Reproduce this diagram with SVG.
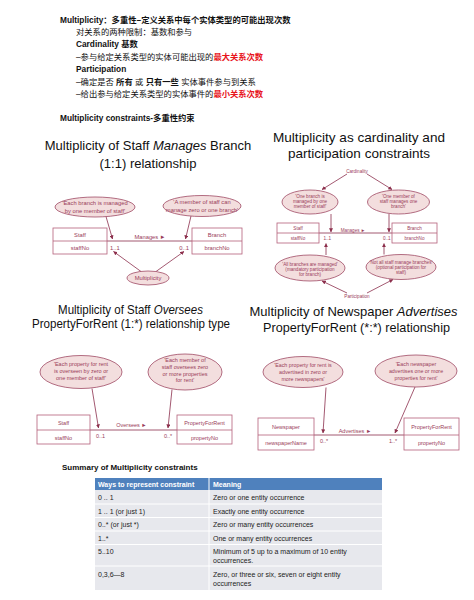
<svg xmlns="http://www.w3.org/2000/svg" width="474" height="600" viewBox="0 0 474 600">
<defs>
<marker id="ah" viewBox="0 0 6 6" refX="5.5" refY="3" markerWidth="4" markerHeight="4" orient="auto" markerUnits="userSpaceOnUse"><path d="M0,0 L6,3 L0,6 z" fill="#8c2f4c"/></marker>
<style>
.t{font-family:"Liberation Sans","Noto Sans CJK SC",sans-serif;fill:#111}
.b{font-weight:bold}
.red{fill:#e8141c;font-weight:bold}
.ti{font-family:"Liberation Sans",sans-serif;font-size:13px;fill:#111;text-anchor:middle}
.el{fill:#f3dede;stroke:#a04a64;stroke-width:0.8}
.bx{fill:#fff;stroke:#b4607a;stroke-width:0.8}
.ln{stroke:#8c2f4c;stroke-width:0.8;fill:none}
.ar{stroke:#8c2f4c;stroke-width:0.8;fill:none;marker-end:url(#ah)}
.d{font-family:"Liberation Sans",sans-serif;fill:#9a3d5a;text-anchor:middle}
.ds{font-family:"Liberation Sans",sans-serif;fill:#9a3d5a}
.tb{font-family:"Liberation Sans",sans-serif;font-size:7px;fill:#222}
.th{font-family:"Liberation Sans",sans-serif;font-size:7px;fill:#fff;font-weight:bold}
</style>
</defs>
<rect width="474" height="600" fill="#fff"/>

<g id="intro" class="t" font-size="8.3">
<text x="60" y="23" class="b">Multiplicity：多重性–定义关系中每个实体类型的可能出现次数</text>
<text x="76" y="35">对关系的两种限制：基数和参与</text>
<text x="76" y="47" class="b">Cardinality 基数</text>
<text x="76" y="60">–参与给定关系类型的实体可能出现的<tspan class="red">最大关系次数</tspan></text>
<text x="76" y="72" class="b">Participation</text>
<text x="76" y="85">–确定是否 <tspan class="b">所有</tspan> 或 <tspan class="b">只有一些</tspan> 实体事件参与到关系</text>
<text x="76" y="97">–给出参与给定关系类型的实体事件的<tspan class="red">最小关系次数</tspan></text>
<text x="60" y="121" class="b">Multiplicity constraints-多重性约束</text>
</g>

<g id="titles">
<text class="ti" x="148" y="150">Multiplicity of Staff <tspan font-style="italic">Manages</tspan> Branch</text>
<text class="ti" x="148" y="168" textLength="97" lengthAdjust="spacingAndGlyphs">(1:1) relationship</text>
<text class="ti" x="359" y="142" textLength="172" lengthAdjust="spacingAndGlyphs">Multiplicity as cardinality and</text>
<text class="ti" x="359" y="158" textLength="142" lengthAdjust="spacingAndGlyphs">participation constraints</text>
<text class="ti" transform="translate(130.5,314) scale(0.885,1)" x="0" y="0">Multiplicity of Staff <tspan font-style="italic">Oversees</tspan></text>
<text class="ti" x="131" y="328" textLength="198" lengthAdjust="spacingAndGlyphs">PropertyForRent (1:*) relationship type</text>
<text class="ti" x="353.5" y="316" font-size="13.3">Multiplicity of Newspaper <tspan font-style="italic">Advertises</tspan></text>
<text class="ti" x="356.5" y="332" textLength="187" lengthAdjust="spacingAndGlyphs">PropertyForRent (*:*) relationship</text>
</g>

<g id="connectors">
<line class="ln" x1="107" y1="241" x2="192" y2="241"/>
<line class="ar" x1="106" y1="216.5" x2="112.5" y2="239"/>
<line class="ar" x1="191" y1="216" x2="185.5" y2="239"/>
<line class="ar" x1="141" y1="271.5" x2="113.5" y2="251.5"/>
<line class="ar" x1="156" y1="271.5" x2="184" y2="251.5"/>
<line class="ln" x1="319" y1="233" x2="392" y2="233"/>
<line class="ar" x1="347" y1="174" x2="322" y2="189.5"/>
<line class="ar" x1="367" y1="174" x2="392" y2="189.5"/>
<line class="ar" x1="331" y1="214" x2="331" y2="232"/>
<line class="ar" x1="389" y1="214" x2="389" y2="232"/>
<line class="ar" x1="326" y1="255" x2="326" y2="243.5"/>
<line class="ar" x1="384" y1="254.5" x2="384" y2="243.5"/>
<line class="ar" x1="347" y1="293" x2="322" y2="281"/>
<line class="ar" x1="367" y1="293" x2="393" y2="279.5"/>
<line class="ln" x1="90" y1="430" x2="177" y2="430"/>
<line class="ar" x1="92" y1="388.5" x2="98.5" y2="428"/>
<line class="ar" x1="172" y1="389.5" x2="168" y2="428"/>
<line class="ln" x1="314" y1="435" x2="404" y2="435"/>
<line class="ar" x1="326" y1="387.5" x2="323" y2="433"/>
<line class="ar" x1="415" y1="387" x2="395" y2="433"/>
</g>

<g id="d1-note-left">
<ellipse class="el" cx="95" cy="207" rx="40" ry="10"/>
<text class="d" font-size="5.8" x="95" y="205">'Each branch is managed</text>
<text class="d" font-size="5.8" x="95" y="212.5">by one member of staff'</text>
</g>
<g id="d1-note-right">
<ellipse class="el" cx="202" cy="206" rx="39" ry="10.5"/>
<text class="d" font-size="5.8" x="202" y="204">'A member of staff can</text>
<text class="d" font-size="5.8" x="202" y="211.5">manage zero or one branch'</text>
</g>
<g id="d1-multiplicity">
<ellipse class="el" cx="148" cy="278" rx="21" ry="7"/>
<text class="d" font-size="5.8" x="148" y="280">Multiplicity</text>
</g>
<g id="d1-staff">
<rect class="bx" x="53" y="228" width="54" height="26"/>
<line class="bx" x1="53" y1="241" x2="107" y2="241"/>
<text class="d" font-size="5.8" x="80" y="236.5">Staff</text>
<text class="d" font-size="5.8" x="80" y="250">staffNo</text>
</g>
<g id="d1-branch">
<rect class="bx" x="192" y="228" width="50" height="26"/>
<line class="bx" x1="192" y1="241" x2="242" y2="241"/>
<text class="d" font-size="5.8" x="217" y="236.5">Branch</text>
<text class="d" font-size="5.8" x="217" y="250">branchNo</text>
</g>
<g id="d1-labels">
<text class="d" font-size="5.8" x="150" y="238.5">Manages ►</text>
<text class="ds" font-size="5.8" x="110" y="249.5">1..1</text>
<text class="ds" font-size="5.8" x="189" y="249.5" text-anchor="end">0..1</text>
</g>

<g id="d2-cardinality"><text class="d" font-size="4.6" x="357" y="173">Cardinality</text></g>
<g id="d2-note-tl">
<ellipse class="el" cx="310" cy="202" rx="28" ry="12"/>
<text class="d" font-size="4.6" x="310" y="197.5">'One branch is</text>
<text class="d" font-size="4.6" x="310" y="202.8">managed by one</text>
<text class="d" font-size="4.6" x="310" y="208.1">member of staff'</text>
</g>
<g id="d2-note-tr">
<ellipse class="el" cx="398.5" cy="202" rx="31" ry="12"/>
<text class="d" font-size="4.6" x="398.5" y="197.5">'One member of</text>
<text class="d" font-size="4.6" x="398.5" y="202.8">staff manages one</text>
<text class="d" font-size="4.6" x="398.5" y="208.1">branch'</text>
</g>
<g id="d2-staff">
<rect class="bx" x="277" y="223" width="42" height="20"/>
<line class="bx" x1="277" y1="233" x2="319" y2="233"/>
<text class="d" font-size="4.6" x="298" y="229.8">Staff</text>
<text class="d" font-size="4.6" x="298" y="239.8">staffNo</text>
</g>
<g id="d2-branch">
<rect class="bx" x="392" y="223" width="45" height="20"/>
<line class="bx" x1="392" y1="233" x2="437" y2="233"/>
<text class="d" font-size="4.6" x="414.5" y="229.8">Branch</text>
<text class="d" font-size="4.6" x="414.5" y="239.8">branchNo</text>
</g>
<g id="d2-labels">
<text class="d" font-size="4.6" x="353" y="231.5">Manages ►</text>
<text class="ds" font-size="4.6" x="323.5" y="240">1..1</text>
<text class="ds" font-size="4.6" x="383" y="240">0..1</text>
</g>
<g id="d2-note-bl">
<ellipse class="el" cx="310" cy="268" rx="35" ry="13"/>
<text class="d" font-size="4.6" x="310" y="265.5">'All branches are managed'</text>
<text class="d" font-size="4.6" x="310" y="270.5">(mandatory participation</text>
<text class="d" font-size="4.6" x="310" y="275.5">for branch)</text>
</g>
<g id="d2-note-br">
<ellipse class="el" cx="401" cy="267" rx="35" ry="12.5"/>
<text class="d" font-size="4.6" x="401" y="264.3">'Not all staff manage branches'</text>
<text class="d" font-size="4.6" x="401" y="269.3">(optional participation for</text>
<text class="d" font-size="4.6" x="401" y="274.3">staff)</text>
</g>
<g id="d2-participation"><text class="d" font-size="4.6" x="357" y="298">Participation</text></g>

<g id="d3-note-left">
<ellipse class="el" cx="81" cy="372" rx="41" ry="16.5"/>
<text class="d" font-size="5.5" x="81" y="366">'Each property for rent</text>
<text class="d" font-size="5.5" x="81" y="373.2">is overseen by zero or</text>
<text class="d" font-size="5.5" x="81" y="380.4">one member of staff'</text>
</g>
<g id="d3-note-right">
<ellipse class="el" cx="185" cy="372" rx="37" ry="18"/>
<text class="d" font-size="5.5" x="185" y="362.3">'Each member of</text>
<text class="d" font-size="5.5" x="185" y="368.8">staff oversees zero</text>
<text class="d" font-size="5.5" x="185" y="375.6">or more properties</text>
<text class="d" font-size="5.5" x="185" y="382.3">for rent'</text>
</g>
<g id="d3-staff">
<rect class="bx" x="37" y="415" width="53" height="29"/>
<line class="bx" x1="37" y1="430" x2="90" y2="430"/>
<text class="d" font-size="5.5" x="63.5" y="424.5">Staff</text>
<text class="d" font-size="5.5" x="63.5" y="439.5">staffNo</text>
</g>
<g id="d3-property">
<rect class="bx" x="177" y="415" width="55" height="29"/>
<line class="bx" x1="177" y1="430" x2="232" y2="430"/>
<text class="d" font-size="5.5" x="204.5" y="424.5">PropertyForRent</text>
<text class="d" font-size="5.5" x="204.5" y="439.5">propertyNo</text>
</g>
<g id="d3-labels">
<text class="d" font-size="5.5" x="131.5" y="427">Oversees ►</text>
<text class="ds" font-size="5.5" x="96" y="437.5">0..1</text>
<text class="ds" font-size="5.5" x="164" y="437.5">0..*</text>
</g>

<g id="d4-note-left">
<ellipse class="el" cx="303" cy="372" rx="40" ry="15.5"/>
<text class="d" font-size="5.3" x="303" y="367">'Each property for rent is</text>
<text class="d" font-size="5.3" x="303" y="374">advertised in zero or</text>
<text class="d" font-size="5.3" x="303" y="381">more newspapers'</text>
</g>
<g id="d4-note-right">
<ellipse class="el" cx="416" cy="371" rx="41" ry="16"/>
<text class="d" font-size="5.3" x="416" y="365.5">'Each newspaper</text>
<text class="d" font-size="5.3" x="416" y="372.5">advertises one or more</text>
<text class="d" font-size="5.3" x="416" y="379.5">properties for rent'</text>
</g>
<g id="d4-newspaper">
<rect class="bx" x="258" y="418" width="56" height="32"/>
<line class="bx" x1="258" y1="435" x2="314" y2="435"/>
<text class="d" font-size="5.5" x="286" y="429">Newspaper</text>
<text class="d" font-size="5.5" x="286" y="445">newspaperName</text>
</g>
<g id="d4-property">
<rect class="bx" x="404" y="418" width="55" height="32"/>
<line class="bx" x1="404" y1="435" x2="459" y2="435"/>
<text class="d" font-size="5.5" x="431.5" y="429">PropertyForRent</text>
<text class="d" font-size="5.5" x="431.5" y="445">propertyNo</text>
</g>
<g id="d4-labels">
<text class="d" font-size="5.5" x="355" y="432.5">Advertises ►</text>
<text class="ds" font-size="5.5" x="320" y="443">0..*</text>
<text class="ds" font-size="5.5" x="389" y="443">1..*</text>
</g>

<g id="summary">
<text class="t b" font-size="8" x="62" y="470">Summary of Multiplicity constraints</text>
<rect x="95" y="478" width="287" height="12" fill="#4f81bd"/>
<rect x="95" y="490" width="287" height="100" fill="#e7e8ed"/>
<g stroke="#fff" stroke-width="1">
<line x1="95" y1="504" x2="382" y2="504"/>
<line x1="95" y1="517.5" x2="382" y2="517.5"/>
<line x1="95" y1="531" x2="382" y2="531"/>
<line x1="95" y1="544.5" x2="382" y2="544.5"/>
<line x1="95" y1="566" x2="382" y2="566"/>
<line x1="209" y1="478" x2="209" y2="590"/>
</g>
<text class="th" x="98" y="486.5">Ways to represent constraint</text>
<text class="th" x="213" y="486.5">Meaning</text>
<text class="tb" x="98" y="499.5">0 .. 1</text>
<text class="tb" x="213" y="499.5">Zero or one entity occurrence</text>
<text class="tb" x="98" y="513.5">1 .. 1 (or just 1)</text>
<text class="tb" x="213" y="513.5">Exactly one entity occurrence</text>
<text class="tb" x="98" y="527">0..* (or just *)</text>
<text class="tb" x="213" y="527">Zero or many entity occurrences</text>
<text class="tb" x="98" y="540.5">1..*</text>
<text class="tb" x="213" y="540.5">One or many entity occurrences</text>
<text class="tb" x="98" y="553.5">5..10</text>
<text class="tb" x="213" y="553.5">Minimum of 5 up to a maximum of 10 entity</text>
<text class="tb" x="213" y="562.5">occurrences.</text>
<text class="tb" x="98" y="576.5">0,3,6—8</text>
<text class="tb" x="213" y="576.5">Zero, or three or six, seven or eight entity</text>
<text class="tb" x="213" y="585.5">occurrences</text>
</g>
</svg>
